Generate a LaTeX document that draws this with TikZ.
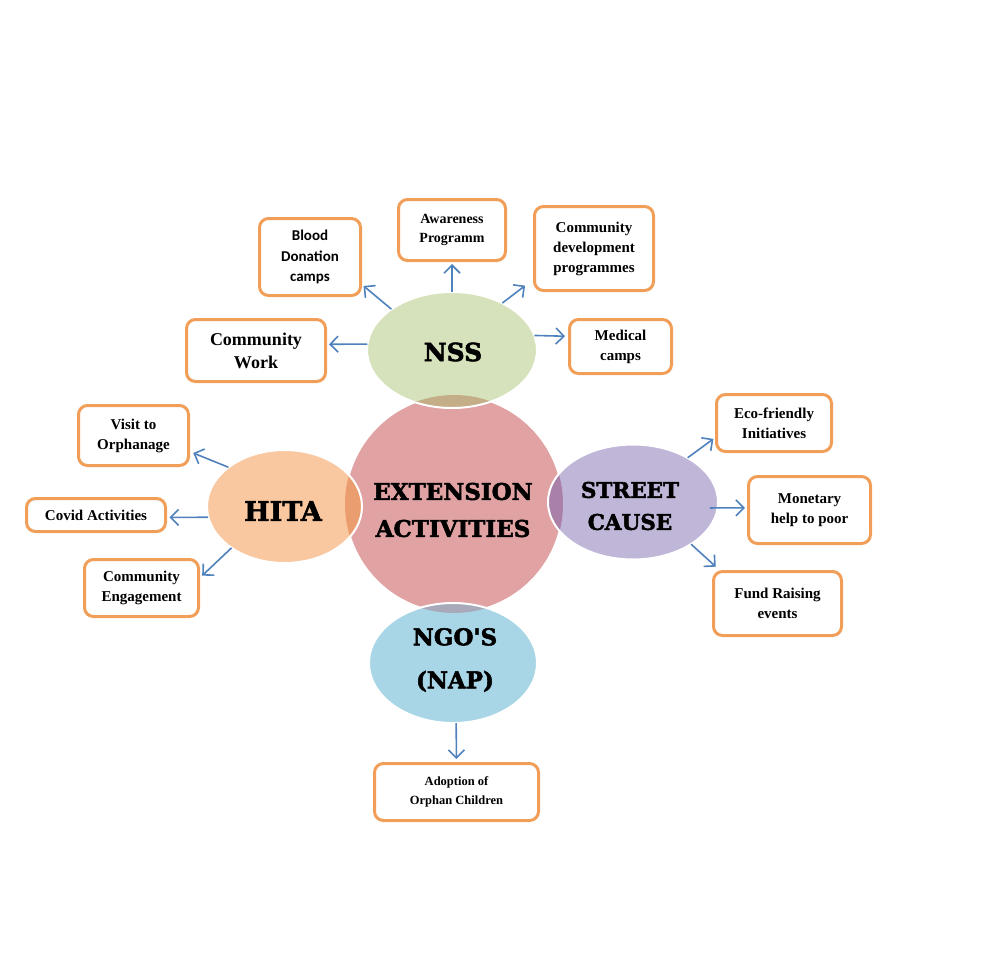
\documentclass[tikz,border=0pt]{standalone}
\usepackage{fontspec}
\setmainfont{Liberation Serif}
\newfontfamily\calibfont{Carlito}
\newfontfamily\decofont[BoldFeatures={FakeBold=2.2}]{DejaVu Serif}
\usetikzlibrary{shapes.geometric,arrows.meta}
\definecolor{ctrpink}{RGB}{224,162,163}
\definecolor{nssgreen}{RGB}{214,226,187}
\definecolor{nssov}{RGB}{196,174,135}
\definecolor{hitapeach}{RGB}{250,200,160}
\definecolor{hitaov}{RGB}{234,158,112}
\definecolor{streetlav}{RGB}{192,182,216}
\definecolor{streetov}{RGB}{168,128,168}
\definecolor{ngoblue}{RGB}{168,214,230}
\definecolor{ngoov}{RGB}{168,170,186}
\definecolor{boxorange}{RGB}{240,158,88}
\definecolor{arrblue}{RGB}{79,129,189}
\begin{document}
\begin{tikzpicture}[x=1pt,y=-1pt,
  box/.style={draw=boxorange, line width=3pt, rounded corners=9pt, fill=white,
    align=center, inner sep=0pt, font=\bfseries\fontsize{15}{20}\selectfont},
  arr/.style={draw=arrblue, line width=1.6pt,
    -{Straight Barb[length=8pt,width=16pt,line width=1.6pt]}},
  bub/.style={ellipse, inner sep=0pt, draw=none},
  bubtext/.style={align=center, inner sep=0pt, text=black}]
\useasboundingbox (0,0) rectangle (980,980);

% central circle
\node[circle, minimum size=218pt, inner sep=0pt, fill=ctrpink, draw=white, line width=2pt] (ctr) at (454,504) {};

% bubbles
\node[bub, fill=nssgreen, minimum width=170pt, minimum height=116pt] (nss) at (452,350) {};
\node[bub, fill=hitapeach, minimum width=155pt, minimum height=113pt] (hita) at (284.5,506.5) {};
\node[bub, fill=streetlav, minimum width=170pt, minimum height=115pt] (street) at (633,502) {};
\node[bub, fill=ngoblue, minimum width=168pt, minimum height=120pt] (ngo) at (453,663) {};

\begin{scope}
  \clip (ctr.center) circle[radius=109];
  \fill[nssov] (nss.center) ellipse[x radius=85, y radius=58];
  \fill[hitaov] (hita.center) ellipse[x radius=77.5, y radius=56.5];
  \fill[streetov] (street.center) ellipse[x radius=85, y radius=57.5];
  \fill[ngoov] (ngo.center) ellipse[x radius=84, y radius=60];
\end{scope}
\draw[white, line width=2pt] (nss.center) ellipse[x radius=85, y radius=58];
\draw[white, line width=2pt] (hita.center) ellipse[x radius=77.5, y radius=56.5];
\draw[white, line width=2pt] (street.center) ellipse[x radius=85, y radius=57.5];
\draw[white, line width=2pt] (ngo.center) ellipse[x radius=84, y radius=60];

% bubble texts
\node[bubtext, font=\decofont\bfseries\fontsize{23}{37}\selectfont] (ctrt) at (453,510) {EXTENSION\\ACTIVITIES};
\node[bubtext, font=\decofont\bfseries\fontsize{25}{30}\selectfont] (nsst) at (453,352) {NSS};
\node[bubtext, font=\decofont\bfseries\fontsize{27}{30}\selectfont] (hitat) at (283,511) {HITA};
\node[bubtext, font=\decofont\bfseries\fontsize{21.5}{32}\selectfont] (streett) at (630,506) {STREET\\CAUSE};
\node[bubtext, font=\decofont\bfseries\fontsize{23}{43}\selectfont] (ngot) at (455,660) {NGO'S\\(NAP)};

% boxes
\node[box, minimum width=101pt, minimum height=77pt, font=\calibfont\bfseries\fontsize{15}{20.5}\selectfont] (blood) at (310,257) {Blood\\Donation\\camps};
\node[box, minimum width=107pt, minimum height=61pt, font=\bfseries\fontsize{14}{19}\selectfont] (aware) at (452,230) {Awareness\\Programm};
\node[box, minimum width=119pt, minimum height=84pt] (commdev) at (594,248.5) {Community\\development\\programmes};
\node[box, minimum width=139pt, minimum height=62pt, font=\bfseries\fontsize{18}{23}\selectfont] (cwork) at (256,350.5) {Community\\Work};
\node[box, minimum width=102pt, minimum height=54pt] (medical) at (620.5,346.5) {Medical\\camps};
\node[box, minimum width=110pt, minimum height=60pt] (visit) at (133.5,435.5) {Visit to\\Orphanage};
\node[box, minimum width=139pt, minimum height=33pt] (covid) at (96,515) {Covid Activities};
\node[box, minimum width=114pt, minimum height=57pt] (commeng) at (141.5,588) {Community\\Engagement};
\node[box, minimum width=115pt, minimum height=57pt] (eco) at (774,423) {Eco-friendly\\Initiatives};
\node[box, minimum width=122pt, minimum height=67pt] (monetary) at (809.5,510) {Monetary\\help to poor};
\node[box, minimum width=128pt, minimum height=64pt] (fund) at (777.5,603.5) {Fund Raising\\events};
\node[box, minimum width=164pt, minimum height=57pt, font=\bfseries\fontsize{12.5}{19}\selectfont] (adopt) at (456.5,792) {Adoption of\\Orphan Children};

% connectors
\draw[arr, shorten >=2pt] (nss.146) -- (blood.-28);
\draw[arr, shorten >=2pt] (nss.north) -- (aware.south);
\draw[arr, shorten >=10pt] (nss.43) -- (commdev.207.5);
\draw[arr, shorten >=2pt] (nss.176) -- (cwork.5);
\draw[arr, shorten >=3pt] (nss.10) -- (medical.169);
\draw[arr, shorten >=3.5pt] (hita.145) -- (visit.-16.5);
\draw[arr, shorten >=2.5pt] (hita.188) -- (covid.-2);
\draw[arr, shorten >=3pt] (hita.218) -- (commeng.10);
\draw[arr, shorten >=2pt] (street.39) -- (eco.194);
\draw[arr, shorten <=-8pt, shorten >=2pt] (street.-4) -- (monetary.178);
\draw[arr, shorten >=5pt] (street.-36) -- (fund.150);
\draw[arr, shorten >=3pt] (ngo.-87) -- (adopt.north);
\end{tikzpicture}
\end{document}
